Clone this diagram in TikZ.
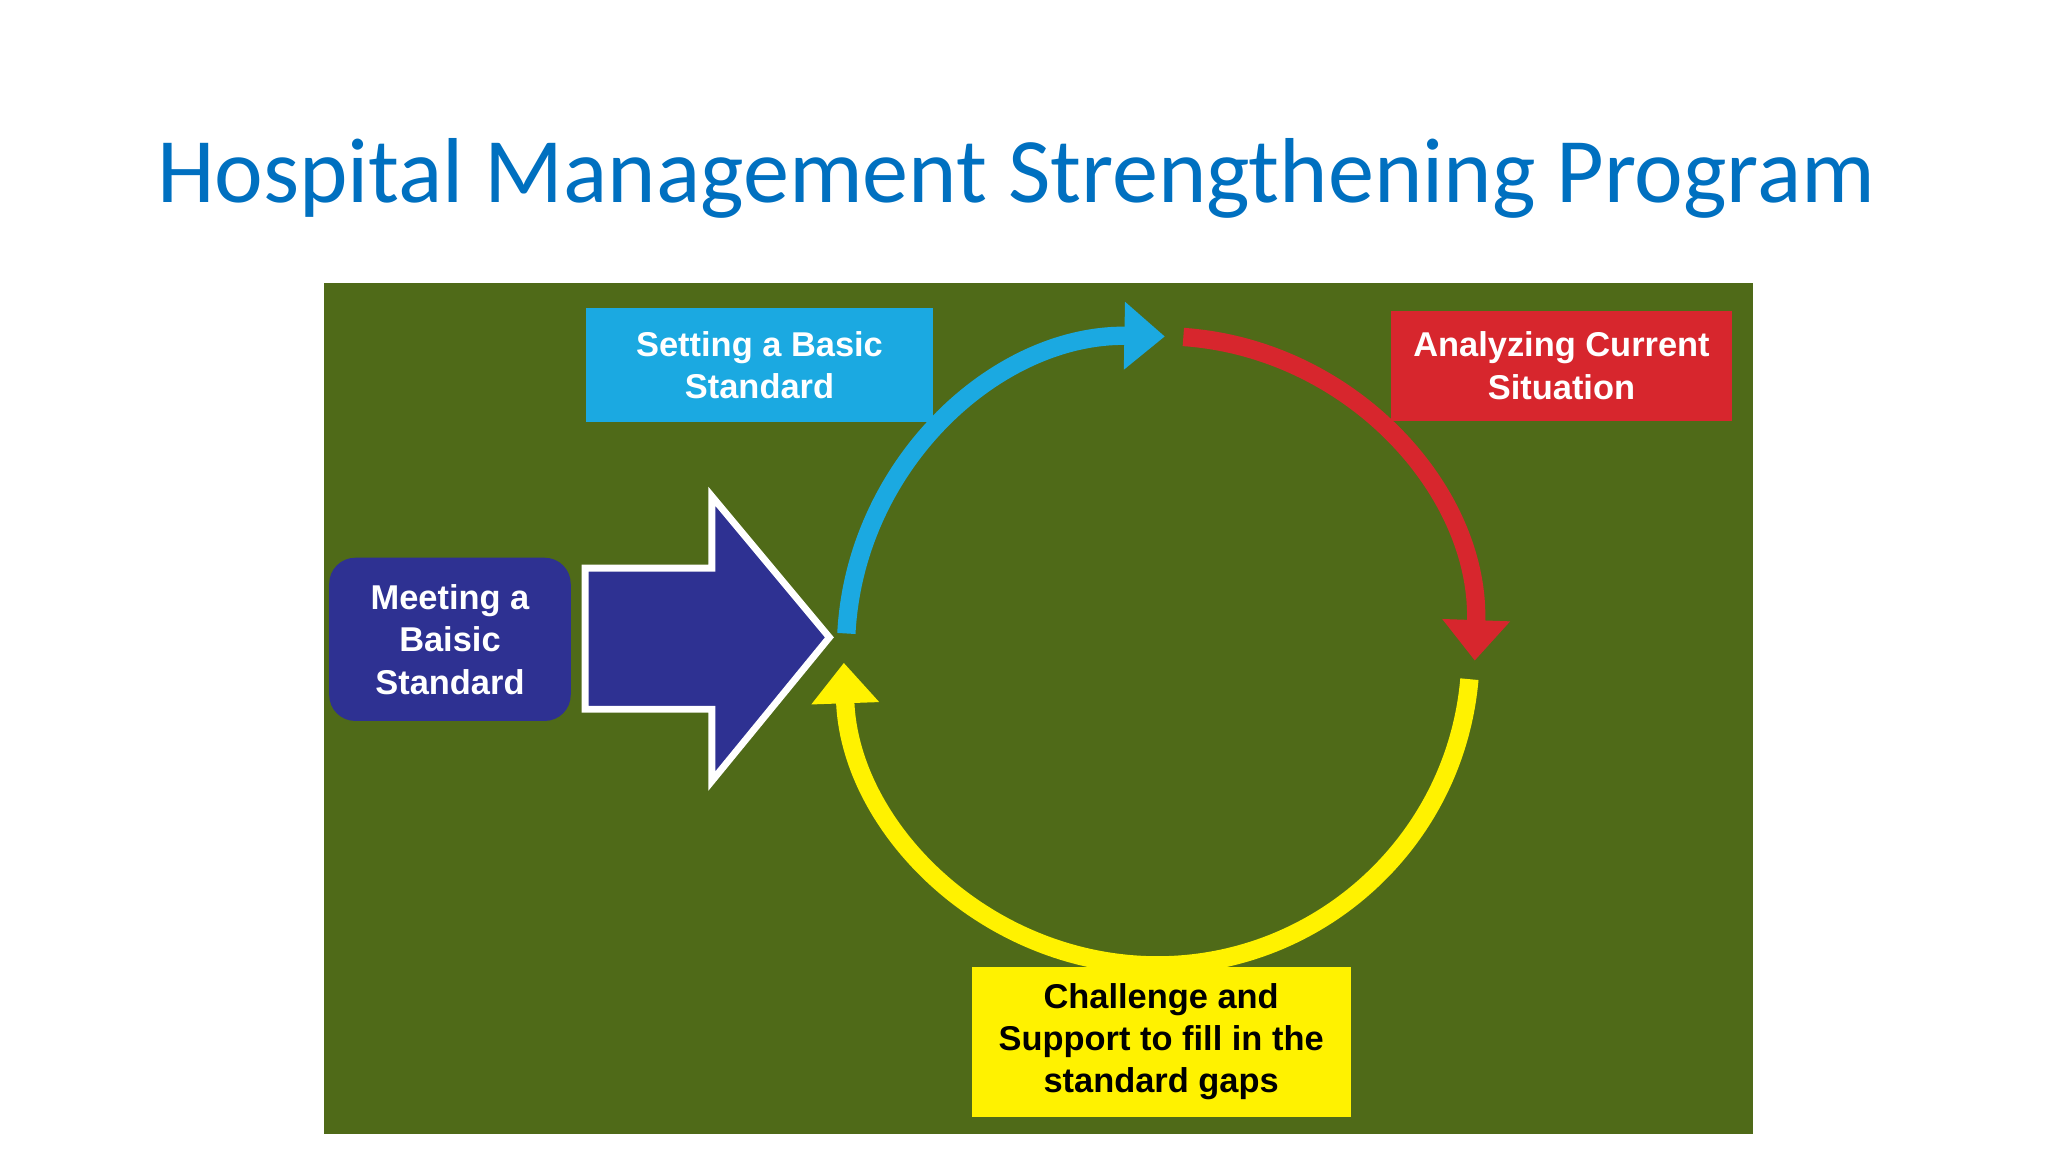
\documentclass[tikz,border=0pt]{standalone}
\usepackage{fontspec}
\setmainfont{Liberation Sans}
\newfontfamily\titlefont{Carlito}
\usetikzlibrary{arrows.meta}
\definecolor{bg}{RGB}{79,106,24}
\definecolor{navy}{RGB}{46,49,146}
\definecolor{cyanb}{RGB}{27,169,225}
\definecolor{redb}{RGB}{215,38,45}
\definecolor{yel}{RGB}{255,242,0}
\definecolor{titleblue}{RGB}{0,112,192}
\tikzset{
  lbl/.style={font=\bfseries\fontsize{15}{18.5}\selectfont, align=center, inner sep=0pt},
  ring/.style={line width=0.28cm},
  tip/.style={-{Triangle[width=1.0cm,length=0.62cm]}}
}
\begin{document}
\begin{tikzpicture}[x=0.02cm,y=-0.02cm]
\useasboundingbox (0,0) rectangle (1568,882);
\fill[white] (0,0) rectangle (1568,882);
\node[anchor=base west, inner sep=0pt, text=titleblue, font=\titlefont\fontsize{40.2}{46}\selectfont] (title) at (120,155) {Hospital Management Strengthening Program};
\fill[bg] (248,217) rectangle (1342,868);
% ring
\coordinate (c) at (888,497);
\draw[ring, cyanb, tip] (648,485) arc[start angle=183, end angle=271, radius=240];
\draw[ring, redb, tip] (906,258) arc[start angle=274, end angle=362, radius=240];
\draw[ring, yel, tip] (1125,520) arc[start angle=5, end angle=178, radius=240];
% big arrow
\draw[white, line width=3pt, fill=navy] (448,435) -- (545,435) -- (545,380) -- (635,488) -- (545,598) -- (545,543) -- (448,543) -- cycle;
% boxes
\node[fill=navy, rounded corners=0.4cm, minimum width=3.7cm, minimum height=2.5cm, text=white, lbl] (meet) at (344.5,489.5) {Meeting a\\Baisic\\Standard};
\node[fill=cyanb, minimum width=5.3cm, minimum height=1.74cm, text=white, lbl] (set) at (581.5,279.5) {Setting a Basic\\Standard};
\node[fill=redb, minimum width=5.22cm, minimum height=1.68cm, text=white, lbl] (ana) at (1195.5,280) {Analyzing Current\\Situation};
\node[fill=yel, minimum width=5.8cm, minimum height=2.3cm, text=black, lbl] (chal) at (889,797.5) {Challenge and\\Support to fill in the\\standard gaps};
\end{tikzpicture}
\end{document}
